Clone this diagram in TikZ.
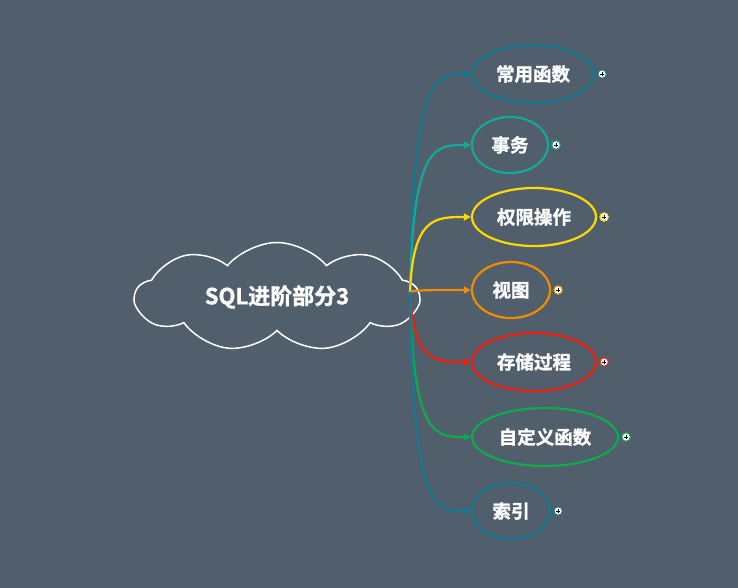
\documentclass[tikz,border=0pt]{standalone}
\usepackage{fontspec}
\setmainfont{Noto Sans CJK SC}[BoldFont={Noto Sans CJK SC Bold},BoldFeatures={FakeBold=1.5}]
\usetikzlibrary{shapes.symbols,shapes.geometric,arrows.meta}
\definecolor{bg}{HTML}{505F6B}
\definecolor{cA}{HTML}{127A8E}
\definecolor{cB}{HTML}{14A89A}
\definecolor{cC}{HTML}{FFD800}
\definecolor{cD}{HTML}{F08C00}
\definecolor{cE}{HTML}{F01E0A}
\definecolor{cF}{HTML}{0FAA50}
\definecolor{cG}{HTML}{167A94}
\tikzset{
  sub/.style={ellipse,draw=#1,line width=2.2pt,inner sep=0pt,minimum height=58pt,text=white,font=\bfseries\fontsize{18.5pt}{18.5pt}\selectfont},
  conn/.style={draw=#1,line width=2.2pt,-{Triangle[length=7pt,width=7pt]}},
  plus/.style={circle,draw=#1,fill=white,line width=1pt,inner sep=0pt,minimum size=8.5pt,
     path picture={\draw[black,line width=0.7pt] ([xshift=-2.3pt]path picture bounding box.center)--([xshift=2.3pt]path picture bounding box.center) ([yshift=-2.3pt]path picture bounding box.center)--([yshift=2.3pt]path picture bounding box.center);}}
}
\begin{document}
\begin{tikzpicture}[x=1pt,y=-1pt]
\fill[bg] (0,0) rectangle (738,588);
\useasboundingbox (0,0) rectangle (738,588);
\node[cloud,cloud puffs=9,cloud puff arc=100,aspect=2.6,draw=white,line width=1.5pt,minimum width=283pt,minimum height=109pt,inner sep=0pt,text=white,font=\bfseries\fontsize{22pt}{22pt}\selectfont] (root) at (277,297) {SQL进阶部分3};
\coordinate (o) at (410,292);
\node[sub=cA,minimum width=122pt] (a) at (533,74) {常用函数};
\node[sub=cB,minimum width=76pt,minimum height=56pt] (b) at (510,145) {事务};
\node[sub=cC,minimum width=124pt] (c) at (534,217) {权限操作};
\node[sub=cD,minimum width=78pt,minimum height=56pt] (d) at (511,290) {视图};
\node[sub=cE,minimum width=124pt] (e) at (534,362) {存储过程};
\node[sub=cF,minimum width=146pt] (f) at (545,437) {自定义函数};
\node[sub=cG,minimum width=78pt,minimum height=56pt] (g) at (511,511) {索引};
\foreach \n/\c in {a/cA,b/cB,c/cC,d/cD,e/cE,f/cF,g/cG}{
  \draw[conn=\c] (o) .. controls ([xshift=3pt]o |- \n.west) and ([xshift=25pt]o |- \n.west) .. (\n.west);
  \node[plus=\c] (p\n) at ([xshift=7pt]\n.east) {};
}
\end{tikzpicture}
\end{document}
